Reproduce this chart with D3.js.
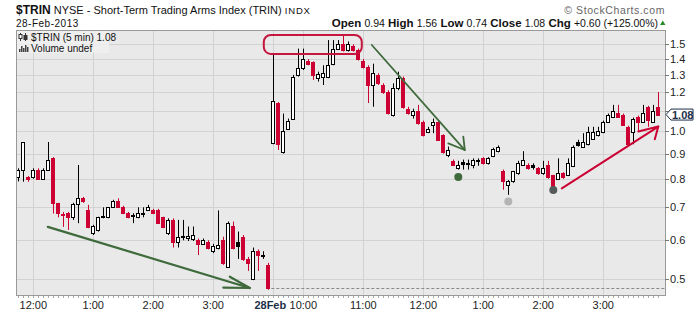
<!DOCTYPE html>
<html><head><meta charset="utf-8">
<script src="https://cdn.jsdelivr.net/npm/d3@7"></script>
<style>
body{margin:0;background:#fff}
svg{display:block}
text{font-family:"Liberation Sans",Arial,Helvetica,sans-serif}
</style>
</head><body>
<svg id="c" width="700" height="312"></svg>
<script>
// ---------- DATA ----------
const times = ("27 11:45,27 11:50,27 11:55,27 12:00,27 12:05,27 12:10,27 12:15,27 12:20,27 12:25,27 12:30,27 12:35,27 12:40,27 12:45,27 12:50,27 12:55," +
"27 1:00,27 1:05,27 1:10,27 1:15,27 1:20,27 1:25,27 1:30,27 1:35,27 1:40,27 1:45,27 1:50,27 1:55," +
"27 2:00,27 2:05,27 2:10,27 2:15,27 2:20,27 2:25,27 2:30,27 2:35,27 2:40,27 2:45,27 2:50,27 2:55," +
"27 3:00,27 3:05,27 3:10,27 3:15,27 3:20,27 3:25,27 3:30,27 3:35,27 3:40,27 3:45,27 3:50,27 3:55," +
"28 9:30,28 9:35,28 9:40,28 9:45,28 9:50,28 9:55," +
"28 10:00,28 10:05,28 10:10,28 10:15,28 10:20,28 10:25,28 10:30,28 10:35,28 10:40,28 10:45,28 10:50,28 10:55," +
"28 11:00,28 11:05,28 11:10,28 11:15,28 11:20,28 11:25,28 11:30,28 11:35,28 11:40,28 11:45,28 11:50,28 11:55," +
"28 12:00,28 12:05,28 12:10,28 12:15,28 12:20,28 12:25,28 12:30,28 12:35,28 12:40,28 12:45,28 12:50,28 12:55," +
"28 1:00,28 1:05,28 1:10,28 1:15,28 1:20,28 1:25,28 1:30,28 1:35,28 1:40,28 1:45,28 1:50,28 1:55," +
"28 2:00,28 2:05,28 2:10,28 2:15,28 2:20,28 2:25,28 2:30,28 2:35,28 2:40,28 2:45,28 2:50,28 2:55," +
"28 3:00,28 3:05,28 3:10,28 3:15,28 3:20,28 3:25,28 3:30,28 3:35,28 3:40,28 3:45,28 3:50,28 3:55").split(",");

const open = [0.807,0.834,0.807,0.807,0.834,0.80,0.834,0.88,0.713,0.68,0.681,0.668,0.71,0.73,0.691,0.62,0.63,0.668,0.668,0.70,
0.72,0.70,0.681,0.672,0.668,0.681,0.691,0.691,0.691,0.668,0.62,0.66,0.594,0.608,0.606,0.603,0.60,0.59,0.595,0.57,
0.58,0.60,0.53,0.64,0.595,0.61,0.55,0.50,0.57,0.558,0.535,
0.945,1.14,0.905,1.01,1.06,1.30,1.34,1.39,1.38,1.28,1.29,1.29,1.37,1.47,1.50,1.46,1.49,1.46,1.39,1.35,
1.24,1.30,1.24,1.20,1.08,1.22,1.28,1.11,1.08,1.10,1.045,0.995,1.03,1.045,0.98,0.895,0.87,0.84,0.865,0.858,
0.853,0.868,0.88,0.86,0.89,0.91,0.83,0.777,0.79,0.82,0.855,0.853,0.853,0.84,0.82,0.853,0.814,0.80,0.82,0.814,
0.85,0.95,0.93,0.94,0.965,0.98,0.995,1.045,1.07,1.09,1.08,1.02,0.995,1.07,1.045,1.12,1.045,1.12];
const high = [0.84,0.95,0.81,0.84,0.84,0.84,0.95,0.885,0.715,0.685,0.685,0.715,0.853,0.735,0.708,0.645,0.67,0.70,0.70,0.725,
0.73,0.705,0.685,0.681,0.70,0.70,0.708,0.695,0.695,0.67,0.665,0.665,0.66,0.66,0.64,0.64,0.605,0.605,0.60,0.59,
0.69,0.61,0.655,0.655,0.625,0.615,0.555,0.58,0.575,0.57,0.54,
1.44,1.145,1.085,1.06,1.30,1.47,1.47,1.40,1.385,1.32,1.36,1.53,1.53,1.53,1.56,1.52,1.50,1.47,1.40,1.36,
1.37,1.31,1.25,1.21,1.25,1.32,1.29,1.12,1.11,1.13,1.05,1.02,1.06,1.05,0.985,0.93,0.875,0.87,0.875,0.875,
0.88,0.88,0.885,0.885,0.925,0.935,0.835,0.795,0.83,0.87,0.91,0.86,0.86,0.845,0.87,0.87,0.815,0.88,0.825,0.88,
0.935,0.96,0.99,1.02,1.02,1.02,1.05,1.085,1.13,1.13,1.085,1.025,1.065,1.075,1.13,1.125,1.13,1.20];
const low = [0.79,0.789,0.789,0.80,0.80,0.80,0.83,0.68,0.668,0.639,0.63,0.66,0.65,0.715,0.635,0.615,0.625,0.665,0.665,0.698,
0.698,0.678,0.665,0.65,0.665,0.668,0.688,0.678,0.648,0.635,0.615,0.58,0.58,0.60,0.598,0.598,0.56,0.588,0.575,0.565,
0.575,0.535,0.528,0.575,0.55,0.545,0.52,0.498,0.52,0.55,0.476,
0.94,0.915,0.90,1.005,1.055,1.29,1.33,1.36,1.27,1.26,1.24,1.28,1.36,1.46,1.45,1.45,1.45,1.39,1.34,1.14,
1.12,1.24,1.19,1.08,1.07,1.21,1.11,1.08,1.06,1.03,0.975,0.99,0.99,0.955,0.90,0.885,0.85,0.835,0.835,0.835,
0.84,0.85,0.855,0.855,0.885,0.905,0.76,0.742,0.785,0.815,0.85,0.835,0.835,0.815,0.815,0.80,0.765,0.795,0.80,0.81,
0.845,0.93,0.925,0.935,0.96,0.975,0.99,1.04,1.065,1.065,1.025,0.935,0.94,1.0,1.04,1.02,1.04,1.075];
const close = [0.834,0.949,0.80,0.834,0.80,0.834,0.873,0.713,0.681,0.675,0.668,0.71,0.73,0.72,0.639,0.641,0.668,0.672,0.70,0.72,
0.70,0.681,0.668,0.675,0.681,0.682,0.70,0.681,0.65,0.639,0.66,0.594,0.61,0.611,0.612,0.614,0.59,0.60,0.58,0.585,
0.588,0.54,0.65,0.58,0.585,0.55,0.54,0.57,0.56,0.561,0.48,
1.15,0.94,1.0,1.05,1.29,1.34,1.40,1.37,1.30,1.305,1.31,1.36,1.47,1.50,1.46,1.50,1.46,1.40,1.35,1.24,
1.31,1.25,1.20,1.09,1.22,1.28,1.12,1.09,1.10,1.04,0.98,1.01,1.045,0.96,0.905,0.915,0.853,0.855,0.858,0.862,
0.873,0.875,0.86,0.88,0.92,0.93,0.79,0.792,0.83,0.86,0.873,0.84,0.845,0.82,0.84,0.807,0.77,0.82,0.807,0.86,
0.93,0.935,0.95,0.995,0.997,1.0,1.045,1.08,1.10,1.07,1.03,0.94,1.06,1.045,1.09,1.055,1.10,1.08];

const prevClose = 0.48;
const yTicks = [0.5,0.6,0.7,0.8,0.9,1.0,1.1,1.2,1.3,1.4,1.5];
const yTickLabels = ["0.5","0.6","0.7","0.8","0.9","1.0","","1.2","1.3","1.4","1.5"];
const xTicks = ["27 12:00","27 1:00","27 2:00","27 3:00","28 9:30","28 10:00","28 11:00","28 12:00","28 1:00","28 2:00","28 3:00"];
const xTickLabels = ["12:00","1:00","2:00","3:00","28Feb","10:00","11:00","12:00","1:00","2:00","3:00"];

// hand-drawn annotations in (bar index, value) units
const greenArrow1 = [[5.9,0.639],[46.3,0.48]];
const greenArrow1Head = [[42.3,0.506],[46.3,0.48],[41.0,0.481]];
const redBox = [[49.1,1.567],[68.7,1.434]];
const greenArrow2 = [[70.7,1.495],[89.3,0.915]];
const greenArrow2Head = [[86.0,0.944],[89.3,0.915],[89.0,0.974]];
const redArrow = [[108.7,0.765],[128,1.021]];
const redArrowHead = [[124,0.998],[128,1.021],[127.3,0.962]];
const markers = [[88,0.807,"#3f6a3c"],[98,0.719,"#b4b4b4"],[107,0.759,"#555a5a"]];

// ---------- LAYOUT ----------
const L = 16, R = 665, T = 30, B = 295;
const RED = "#cc0033", GREEN = "#3f6a3c";
const svg = d3.select("#c");

const x = d3.scalePoint().domain(times).range([18.3, 18.3 + 5*(times.length-1)]);
const xi = d3.scaleLinear().domain([0, times.length-1]).range([18.3, 18.3 + 5*(times.length-1)]);
const y = d3.scaleLog().domain([0.4646, 1.6037]).range([B, T]);

// plot background
svg.append("rect").attr("x",L).attr("y",T).attr("width",R-L).attr("height",B-T).attr("fill","#e9e9e9");

// gridlines
svg.append("g").selectAll("line").data(yTicks).join("line")
  .attr("x1",L).attr("x2",R)
  .attr("y1",d=>Math.round(y(d))+0.5).attr("y2",d=>Math.round(y(d))+0.5)
  .attr("stroke","#d2d2d2");
svg.append("g").selectAll("line").data(xTicks).join("line")
  .attr("x1",d=>Math.round(x(d))+0.5).attr("x2",d=>Math.round(x(d))+0.5)
  .attr("y1",T).attr("y2",B).attr("stroke","#d2d2d2");

// previous close dashed line
svg.append("line").attr("x1",x(times[50])+3).attr("x2",R)
  .attr("y1",Math.round(y(prevClose))+0.5).attr("y2",Math.round(y(prevClose))+0.5)
  .attr("stroke","#8a8a8a").attr("stroke-dasharray","3,2");

// legend
const lg = svg.append("g");
lg.append("rect").attr("x",L+1).attr("y",T+1).attr("width",92).attr("height",22).attr("fill","#f0f0f0").attr("opacity",0.85);
// candle icon
lg.append("line").attr("x1",20.5).attr("x2",20.5).attr("y1",33).attr("y2",41).attr("stroke","#333");
lg.append("rect").attr("x",19).attr("y",34.5).attr("width",3).attr("height",4).attr("fill","#fff").attr("stroke","#333");
lg.append("line").attr("x1",25.5).attr("x2",25.5).attr("y1",33).attr("y2",41).attr("stroke","#333");
lg.append("rect").attr("x",24).attr("y",35.5).attr("width",3).attr("height",4).attr("fill","#333").attr("stroke","#333");
// volume icon
[[19,3],[21,6],[23,4],[25,7],[27,5]].forEach(([bx,h])=>{
  lg.append("rect").attr("x",bx).attr("y",52-h).attr("width",1.5).attr("height",h).attr("fill","#444");
});
lg.append("text").attr("x",31).attr("y",41).attr("font-size",10).attr("fill","#111")
  .text("$TRIN (5 min) 1.08");
lg.append("text").attr("x",31).attr("y",51.5).attr("font-size",10).attr("fill","#111")
  .text("Volume undef");

// candles
const idx = d3.range(times.length);
const cg = svg.append("g");
const px = i => Math.round(x(times[i]));
function colorOf(i){ const pc = i===0 ? open[0] : close[i-1]; return close[i] < pc ? RED : "#000"; }
cg.selectAll("line.w").data(idx).join("line").attr("class","w")
  .attr("x1",i=>px(i)+0.5).attr("x2",i=>px(i)+0.5)
  .attr("y1",i=>y(high[i])).attr("y2",i=>y(low[i]))
  .attr("stroke",i=>colorOf(i)).attr("stroke-width",1);
cg.selectAll("rect.b").data(idx).join("rect").attr("class","b")
  .attr("x",i=>px(i)-1.5).attr("width",3)
  .attr("y",i=>Math.round(y(Math.max(open[i],close[i])))+0.5)
  .attr("height",i=>Math.max(1,Math.round(y(Math.min(open[i],close[i])))-Math.round(y(Math.max(open[i],close[i])))))
  .attr("fill",i=>close[i] > open[i] ? "#fff" : colorOf(i))
  .attr("stroke",i=>colorOf(i)).attr("stroke-width",1);

// annotations
const ln = d3.line().x(d=>xi(d[0])).y(d=>y(d[1]));
const ag = svg.append("g").attr("fill","none").attr("stroke-linecap","round").attr("stroke-linejoin","round");
ag.append("path").attr("d",ln(greenArrow1)).attr("stroke",GREEN).attr("stroke-width",2.2);
ag.append("path").attr("d",ln(greenArrow1Head)).attr("stroke",GREEN).attr("stroke-width",2.2);
ag.append("path").attr("d",ln(greenArrow2)).attr("stroke",GREEN).attr("stroke-width",1.8);
ag.append("path").attr("d",ln(greenArrow2Head)).attr("stroke",GREEN).attr("stroke-width",1.8);
ag.append("path").attr("d",ln(redArrow)).attr("stroke",RED).attr("stroke-width",2);
ag.append("path").attr("d",ln(redArrowHead)).attr("stroke",RED).attr("stroke-width",2);
ag.append("rect")
  .attr("x",xi(redBox[0][0])).attr("y",y(redBox[0][1]))
  .attr("width",xi(redBox[1][0])-xi(redBox[0][0])).attr("height",y(redBox[1][1])-y(redBox[0][1]))
  .attr("rx",7).attr("ry",7).attr("stroke","#c4163e").attr("stroke-width",2);
svg.append("g").selectAll("circle").data(markers).join("circle")
  .attr("cx",d=>xi(d[0])).attr("cy",d=>y(d[1])).attr("r",4).attr("fill",d=>d[2]);

// border
svg.append("rect").attr("x",L+0.5).attr("y",T+0.5).attr("width",R-L).attr("height",B-T)
  .attr("fill","none").attr("stroke","#999");

// y axis
const ya = svg.append("g");
ya.selectAll("line").data(yTicks).join("line")
  .attr("x1",R).attr("x2",R+4).attr("y1",d=>Math.round(y(d))+0.5).attr("y2",d=>Math.round(y(d))+0.5).attr("stroke","#777");
ya.selectAll("text").data(yTicks).join("text")
  .attr("x",R+5).attr("y",d=>y(d)+4).attr("font-size",11).attr("fill","#222")
  .text((d,i)=>yTickLabels[i]);

// last value marker
const lv = close[close.length-1];
const ly = y(lv);
svg.append("path").attr("d",`M${R+1},${ly} L${R+6},${ly-5.5} L${R+28},${ly-5.5} L${R+28},${ly+5.5} L${R+6},${ly+5.5} Z`)
  .attr("fill","#fff").attr("stroke","#1d2f48").attr("stroke-width",1);
svg.append("text").attr("x",R+7).attr("y",ly+4).attr("font-size",11).attr("font-weight","bold").attr("fill","#1d2f48").text(d3.format(".2f")(lv));

// x axis minor ticks
svg.append("g").selectAll("line").data(idx).join("line")
  .attr("x1",i=>px(i)+0.5).attr("x2",i=>px(i)+0.5).attr("y1",B+1).attr("y2",B+3).attr("stroke","#aaa");
svg.append("g").selectAll("text").data(xTicks).join("text")
  .attr("x",d=>x(d)).attr("y",308.5).attr("text-anchor","middle").attr("font-size",11)
  .attr("fill",(d,i)=>xTickLabels[i]==="28Feb"?"#1d2f48":"#222")
  .attr("font-weight",(d,i)=>xTickLabels[i]==="28Feb"?"bold":"normal")
  .attr("dx",(d,i)=>xTickLabels[i]==="28Feb"?-3:0)
  .text((d,i)=>xTickLabels[i]);

// header
const h = svg.append("text").attr("x",L).attr("y",14).attr("font-size",11).attr("fill","#111");
h.append("tspan").attr("font-weight","bold").attr("font-size",12).text("$TRIN");
h.append("tspan").text(" NYSE - Short-Term Trading Arms Index (TRIN) ");
h.append("tspan").attr("font-size",9.5).attr("letter-spacing",0.8).text("INDX");
svg.append("text").attr("x",L).attr("y",26.5).attr("font-size",10).attr("letter-spacing",0.5).attr("fill","#111").text("28-Feb-2013");
svg.append("text").attr("x",R).attr("y",14).attr("text-anchor","end").attr("font-size",10.5).attr("letter-spacing",0.6).attr("fill","#666").text("© StockCharts.com");

const info = [["Open","0.94"],["High","1.56"],["Low","0.74"],["Close","1.08"],["Chg","+0.60 (+125.00%)"]];
const it = svg.append("text").attr("x",R-7).attr("y",27).attr("text-anchor","end").attr("fill","#111");
info.forEach(([k,v],i)=>{
  it.append("tspan").attr("font-weight","bold").attr("font-size",11.5).text((i?"  ":"")+k+" ");
  it.append("tspan").attr("font-size",10.5).text(v);
});
svg.append("path").attr("d",`M${R-5},${25} L${R+0.5},${25} L${R-2.25},${20.5} Z`).attr("fill","#2a8a2a");
</script>
</body></html>
